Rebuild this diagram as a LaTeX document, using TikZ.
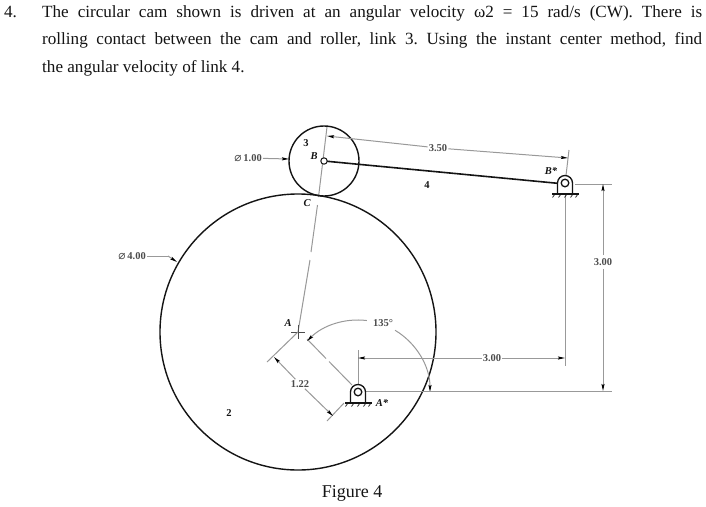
\documentclass[tikz,border=0pt]{standalone}
\usepackage{fontspec}
\setmainfont{Liberation Serif}
\newfontfamily\symfont{DejaVu Sans}
\usetikzlibrary{arrows.meta,calc}
\definecolor{dimgray}{gray}{0.6}
\definecolor{ink}{gray}{0.08}
\frenchspacing
\tikzset{
  x=1pt,y=-1pt,
  para/.style={anchor=base west,inner sep=0pt,font=\fontsize{17.1}{19}\selectfont,text=ink},
  dimlabel/.style={font=\fontsize{10.5}{11}\bfseries\selectfont,inner sep=1pt,text=black!70},
  partlabel/.style={font=\fontsize{10.5}{11}\bfseries\itshape\selectfont,inner sep=0pt,text=ink},
  uprightlabel/.style={font=\fontsize{10.5}{11}\bfseries\selectfont,inner sep=0pt,text=ink},
  outline/.style={draw=ink,line width=1.4pt},
  dimline/.style={draw=dimgray,line width=1pt},
  tip/.style={-{Stealth[length=7pt,width=3pt,inset=1pt,black]}},
  pinbase/.style={draw=ink,line width=1.3pt}
}
\newcommand{\groundpin}[2]{%
  \begin{scope}[shift={(#1,#2)}]
    \draw[pinbase,fill=white] (-7.5,11) -- (-7.5,0) arc[start angle=180,end angle=0,radius=7.5pt] -- (7.5,11);
    \draw[pinbase] (-13,11) -- (14,11);
    \foreach \t in {-10,-4,2,8,13}{\draw[draw=ink,line width=0.7pt] (\t,11) -- ++(-2.5,3.5);}
    \draw[pinbase,fill=white] (0,0) circle[radius=3.8pt];
  \end{scope}}
\begin{document}
\begin{tikzpicture}
\useasboundingbox (0,0) rectangle (706,506);
\fill[white] (0,0) rectangle (706,506);
% problem text
\node[para] (num) at (4,17) {4.};
\node[para] (l1) at (42,17) {\makebox[660pt][s]{The circular cam shown is driven at an angular velocity ω2 = 15 rad/s (CW). There is}};
\node[para] (l2) at (42,44) {\makebox[660pt][s]{rolling contact between the cam and roller, link 3. Using the instant center method, find}};
\node[para] (l3) at (42,72) {the angular velocity of link 4.};
% key points
\coordinate (A) at (298,332);
\coordinate (B) at (324,161);
\coordinate (Astar) at (358,392);
\coordinate (Bstar) at (565,184);
% centre line A--B
\coordinate (clTop) at (327,127);
\coordinate (clA) at (318.5,197);
\coordinate (clB) at (317.5,205);
\coordinate (clC) at (311,252);
\coordinate (clD) at (310,260);
\draw[dimline] (clTop) -- (clA);
\draw[dimline] (clB) -- (clC);
\draw[dimline] (clD) -- (A);
% bodies
\draw[outline] (A) circle[radius=138pt];
\draw[outline] (B) circle[radius=35pt];
\draw[draw=ink,line width=1.6pt] (B) -- (Bstar);
\draw[draw=ink,line width=1pt,fill=white] (B) circle[radius=3.2pt];
% cross at A
\draw[dimline,draw=black!70] (291,332) -- (305,332);
\draw[dimline,draw=black!70] (298,325) -- (298,339);
% A to A* line
\coordinate (aaA) at (307,339);
\coordinate (aaB) at (326,358.5);
\coordinate (aaC) at (329,361.5);
\coordinate (aaD) at (352,385);
\draw[dimline] (aaA) -- (aaB);
\draw[dimline] (aaC) -- (aaD);
% 1.22 dimension
\coordinate (e1) at (267,362);
\coordinate (e2a) at (344,403);
\coordinate (e2b) at (327,421);
\draw[dimline] (A) -- (e1);
\draw[dimline] (e2a) -- (e2b);
\node[dimlabel] (d122) at (300,384) {1.22};
\coordinate (d1a) at (274,357);
\coordinate (d1b) at (333,416);
\draw[dimline,tip] (d122) -- (d1a);
\draw[dimline,tip] (d122) -- (d1b);
% 135 arc
\node[dimlabel] (d135) at (383,323) {135°};
\draw[dimline,-{Stealth[length=7pt,width=3pt,inset=1pt,black]}] ($(Astar)+(83:72pt)$) arc[start angle=83,end angle=135,radius=72pt];
\draw[dimline,-{Stealth[length=7pt,width=3pt,inset=1pt,black]}] ($(Astar)+(59:72pt)$) arc[start angle=59,end angle=0,radius=72pt];
% extension lines
\coordinate (ea) at (358,350);
\coordinate (eb) at (358,385);
\draw[dimline] (ea) -- (eb);
\coordinate (ec) at (565,366);
\draw[dimline] (565,194) -- (ec);
\coordinate (ed) at (569,150);
\draw[dimline] (ed) -- (Bstar);
\coordinate (ee) at (575,184);
\coordinate (ef) at (612,184);
\draw[dimline] (ee) -- (ef);
\coordinate (eg) at (365,391);
\coordinate (eh) at (612,391);
\draw[dimline] (eg) -- (eh);
% 3.50 dimension
\node[dimlabel] (d350) at (438,148) {3.50};
\coordinate (t1) at (327,136);
\coordinate (t2) at (568,158);
\draw[dimline,tip] (d350) -- (t1);
\draw[dimline,tip] (d350) -- (t2);
% horizontal 3.00
\node[dimlabel] (d300h) at (492,358) {3.00};
\coordinate (t3) at (358,358);
\coordinate (t4) at (565,358);
\draw[dimline,tip] (d300h) -- (t3);
\draw[dimline,tip] (d300h) -- (t4);
% vertical 3.00
\node[dimlabel,inner ysep=3pt] (d300v) at (603,262) {3.00};
\coordinate (t5) at (603,184);
\coordinate (t6) at (603,391);
\draw[dimline,tip] (d300v) -- (t5);
\draw[dimline,tip] (d300v) -- (t6);
% diameters
\node[dimlabel,anchor=east] (d100) at (263,158) {{\symfont\fontsize{12}{12}\mdseries\selectfont ⌀}\,1.00};
\coordinate (t7) at (289,159);
\draw[dimline,tip] (d100) -- (t7);
\node[dimlabel,anchor=east] (d400) at (147,256) {{\symfont\fontsize{12}{12}\mdseries\selectfont ⌀}\,4.00};
\coordinate (k4) at (168,256);
\coordinate (t8) at (177,262);
\draw[dimline] (d400) -- (k4);
\draw[dimline,tip] (k4) -- (t8);
% pins
\groundpin{358}{392}
\groundpin{565}{183}
% part labels
\node[partlabel] (lB) at (314,156) {B};
\node[uprightlabel] (l3a) at (306,143) {3};
\node[partlabel] (lC) at (307,203) {C};
\node[partlabel] (lA) at (288,323) {A};
\node[partlabel] (lAs) at (382,403) {A*};
\node[partlabel] (lBs) at (551,171) {B*};
\node[uprightlabel] (l4) at (427,185) {4};
\node[uprightlabel] (l2a) at (229,413) {2};
\node[inner sep=0pt,font=\fontsize{18}{20}\selectfont,text=ink] (fig) at (352,493) {Figure 4};
\end{tikzpicture}
\end{document}
